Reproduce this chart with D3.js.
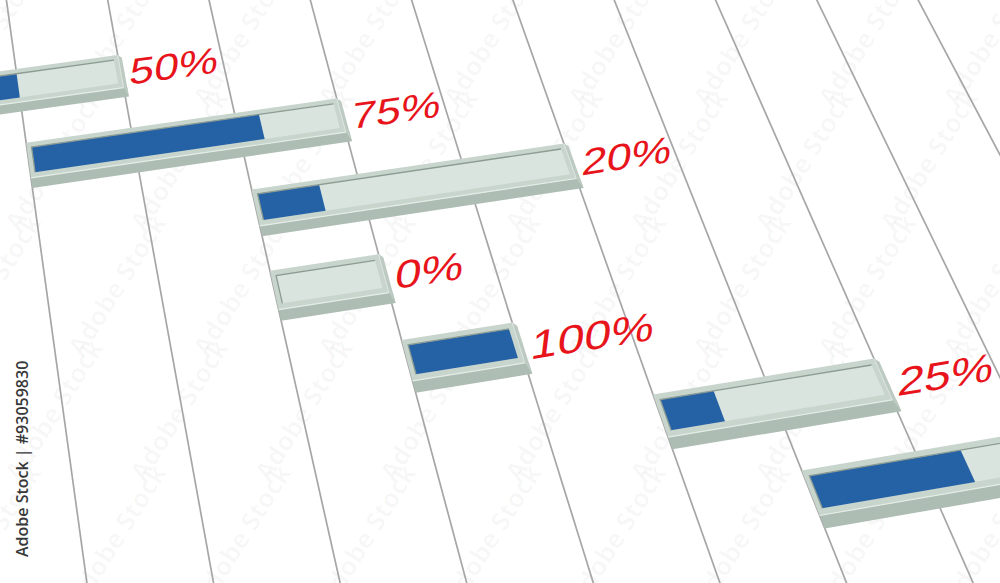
<!DOCTYPE html>
<html lang="en">
<head>
<meta charset="UTF-8">
<title>Gantt progress</title>
<script src="https://d3js.org/d3.v7.min.js"></script>
<style>
  body { margin: 0; background: #fff; }
  #chart { display: block; background: #fff; }
  .grid { stroke: #a6a6a6; fill: none; }
  .label { font-family: "Liberation Sans", Arial, sans-serif; fill: #e8141c; font-size: 36px; }
  .stamp { font-family: "Open Sans", sans-serif; font-weight: 600; fill: #383838; font-size: 16px; }
  .wm { font-family: "Open Sans", sans-serif; font-weight: 700; font-size: 26px; fill: #000; fill-opacity: 0.03; }
</style>
</head>
<body>
<svg id="chart" width="1000" height="583"></svg>
<script>
// tasks, in weeks, top to bottom
const starts   = [-1, 0, 2, 2, 3, 5, 6];
const ends     = [ 1, 3, 5, 3, 4, 7, 8];
const progress = [50, 75, 20, 0, 100, 25, 70];
const rows     = [0, 1, 2, 3, 4, 5, 6];
const weeks    = d3.range(-2, 12);

const svg = d3.select("#chart");

// flat chart plane (plane px), warped onto the screen afterwards
const x = d3.scaleLinear().domain([0, 1]).range([0, 100]);
const y = d3.scaleLinear().domain([0, 6]).range([70, 492]);
const barH = 32, depth = 9, rim = 4.5, side = 3.5;

// perspective: two vanishing points on a level horizon
const V1 = [-316, -2334], V2 = [17360, -2334], O = [6.4, 0];
const lam = 5.731e-5, mu = -4.1085e-4;
function project(px, py) {
  const a = lam * px, b = mu * py, z = 1 + a + b;
  return [(O[0] + a * V2[0] + b * V1[0]) / z, (O[1] + a * V2[1] + b * V1[1]) / z];
}
function poly(pts) {
  return "M" + pts.map(p => project(p[0], p[1]).map(v => v.toFixed(2)).join(",")).join("L") + "Z";
}
function quad(u0, u1, w0, w1) {
  return poly([[u0, w0], [u1, w0], [u1, w1], [u0, w1]]);
}

// faint watermark tiles
const wm = svg.append("g");
d3.range(-1, 9).forEach(c => {
  d3.range(-1, 6).forEach(r => {
    const cx = c * 125 + (r % 2) * 62, cy = r * 125 + 40;
    wm.append("text").attr("class", "wm")
      .attr("transform", `translate(${cx},${cy}) rotate(-58)`)
      .attr("text-anchor", "middle")
      .text("Adobe Stock");
  });
});

// week grid lines
svg.append("g").selectAll("line")
  .data(weeks)
  .join("line")
  .attr("class", "grid")
  .attr("x1", d => project(x(d), -300)[0])
  .attr("y1", d => project(x(d), -300)[1])
  .attr("x2", d => project(x(d), 900)[0])
  .attr("y2", d => project(x(d), 900)[1])
  .attr("stroke-width", 1.7);

// bars
const bars = svg.append("g").selectAll("g")
  .data(rows)
  .join("g");

bars.each(function(i) {
  const g = d3.select(this);
  const u0 = x(starts[i]), u1 = x(ends[i]);
  const w0 = y(i), w1 = w0 + barH;
  const inW = (u1 - u0 - 2 * rim) * progress[i] / 100;

  // front face
  g.append("path").attr("d", quad(u0, u1 + side, w1, w1 + depth)).attr("fill", "#adbdb3");
  // right end face
  g.append("path").attr("d", poly([[u1, w0], [u1 + side, w0 + 3], [u1 + side, w1 + depth], [u1, w1]]))
    .attr("fill", "#bccac1");
  // top rim
  g.append("path").attr("d", quad(u0, u1, w0, w1)).attr("fill", "#c8d5cd");
  // recess
  g.append("path").attr("d", quad(u0 + rim, u1 - rim, w0 + rim, w1 - rim)).attr("fill", "#dae4de");
  // progress
  if (inW > 0) {
    g.append("path").attr("d", quad(u0 + rim, u0 + rim + inW, w0 + rim, w1 - rim)).attr("fill", "#2561a5");
  }
  // recess shadow on the inner walls
  const a = project(u0 + rim, w1 - rim), b = project(u0 + rim, w0 + rim), c = project(u1 - rim, w0 + rim);
  g.append("path").attr("d", `M${a}L${b}L${c}`).attr("fill", "none")
    .attr("stroke", "#8c9c93").attr("stroke-width", 1.3);
  // highlight on the front edge
  const h0 = project(u0, w1), h1 = project(u1, w1);
  g.append("path").attr("d", `M${h0}L${h1}`).attr("stroke", "#e4ece7").attr("stroke-width", 1.2);
  g.append("path").attr("d", `M${h1}L${project(u1, w0)}`).attr("stroke", "#dfe7e2").attr("stroke-width", 1);
});

// percent labels
const kx = 1.2, ky = 1.0;
svg.append("g").selectAll("text")
  .data(rows)
  .join("text")
  .attr("class", "label")
  .attr("transform", i => {
    const p = project(x(ends[i]) + 5, y(i) + 30);
    const q = project(x(ends[i]) + 6, y(i) + 30);
    const jx = q[0] - p[0], jy = q[1] - p[1], s = Math.hypot(jx, jy);
    return `matrix(${jx * kx},${jy * kx},${-0.12 * s * ky},${0.993 * s * ky},${p[0]},${p[1]})`;
  })
  .text(i => progress[i] + "%");

// stock stamp
svg.append("text").attr("class", "stamp")
  .attr("transform", "translate(28,557) rotate(-90)")
  .text("Adobe Stock | #93059830");
</script>
</body>
</html>
